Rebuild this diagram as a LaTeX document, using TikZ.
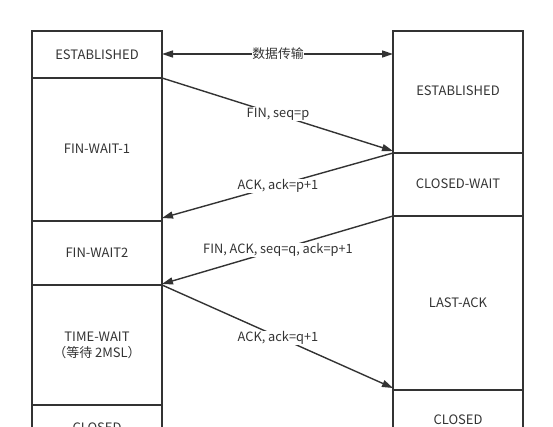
\documentclass[tikz,border=0pt]{standalone}
\usepackage{fontspec}
\setmainfont{Noto Sans CJK SC}
\usetikzlibrary{arrows.meta}
\definecolor{ink}{HTML}{333333}
\begin{document}
\begin{tikzpicture}[x=1pt,y=-1pt,
  statebox/.style={draw=ink,line width=1.8pt},
  statetext/.style={text=ink,font=\fontsize{13}{16}\selectfont,align=center},
  msg/.style={draw=ink,line width=1.4pt,-{Triangle[length=11pt,width=7pt]}},
  msglabel/.style={fill=white,text=ink,font=\fontsize{12.8}{15}\selectfont,inner sep=0.5pt}]
\useasboundingbox (0,0) rectangle (553,427);
\clip (0,0) rectangle (553,427);
% left column
\draw[statebox] (32,31) rectangle (162,78);
\draw[statebox] (32,78) rectangle (162,221);
\draw[statebox] (32,221) rectangle (162,285);
\draw[statebox] (32,285) rectangle (162,405);
\draw[statebox] (32,405) rectangle (162,460);
\node[statetext] (lest) at (97,54.5) {ESTABLISHED};
\node[statetext] (lfw1) at (97,149) {FIN-WAIT-1};
\node[statetext] (lfw2) at (97,253) {FIN-WAIT2};
\node[statetext] (ltw) at (97,345) {TIME-WAIT\\（等待 2MSL）};
\node[statetext] (lcl) at (97,428) {CLOSED};
% right column
\draw[statebox] (393,31) rectangle (523,153);
\draw[statebox] (393,153) rectangle (523,216);
\draw[statebox] (393,216) rectangle (523,390);
\draw[statebox] (393,390) rectangle (523,460);
\node[statetext] (rest) at (458,91) {ESTABLISHED};
\node[statetext] (rcw) at (458,184) {CLOSED-WAIT};
\node[statetext] (rla) at (458,303) {LAST-ACK};
\node[statetext] (rcl) at (458,420) {CLOSED};
% connection points
\coordinate (a1) at (162,54);
\coordinate (b1) at (393,54);
\coordinate (a2) at (162,78);
\coordinate (b2) at (393,151);
\coordinate (b3) at (393,153);
\coordinate (a3) at (162,218);
\coordinate (b4) at (393,216);
\coordinate (a4) at (162,284);
\coordinate (a5) at (162,285);
\coordinate (b5) at (393,388);
% messages
\draw[msg,{Triangle[length=11pt,width=7pt]}-{Triangle[length=11pt,width=7pt]}] (a1) -- (b1);
\node[msglabel] (m1) at (278,54) {数据传输};
\draw[msg] (a2) -- (b2);
\node[msglabel] (m2) at (278,114) {FIN, seq=p};
\draw[msg] (b3) -- (a3);
\node[msglabel] (m3) at (278,186) {ACK, ack=p+1};
\draw[msg] (b4) -- (a4);
\node[msglabel] (m4) at (278,250) {FIN, ACK, seq=q, ack=p+1};
\draw[msg] (a5) -- (b5);
\node[msglabel] (m5) at (278,338) {ACK, ack=q+1};
\end{tikzpicture}
\end{document}
